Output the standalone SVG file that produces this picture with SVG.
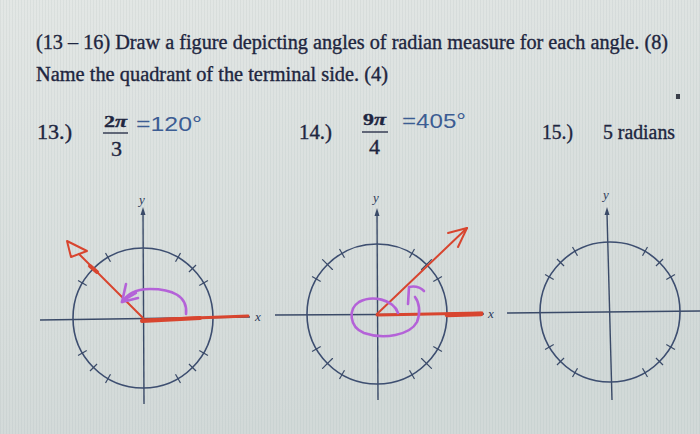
<svg xmlns="http://www.w3.org/2000/svg" xmlns:xlink="http://www.w3.org/1999/xlink" width="700" height="434" viewBox="0 0 700 434">
<defs>
<linearGradient id="bg" x1="0" y1="0" x2="0.3" y2="1">
<stop offset="0" stop-color="#e3e7e5"/>
<stop offset="1" stop-color="#d2d9d8"/>
</linearGradient>
<pattern id="str" width="3" height="10" patternUnits="userSpaceOnUse">
<rect x="0" y="0" width="1" height="10" fill="#9aa6a6" opacity="0.12"/>
</pattern>
<line id="tk" x1="65" y1="0" x2="75" y2="0"/>
<line id="htk" x1="63" y1="0" x2="77" y2="0"/>
<path id="yarr" d="M0,0 L-2.5,8 L2.5,8 Z"/>
</defs>
<style>
.t{font-family:"Liberation Serif","Times New Roman",serif;fill:#1e2640;stroke:#1e2640;stroke-width:0.35}
.b{font-family:"Liberation Sans",Arial,sans-serif;fill:#3c5d93}
.ax{stroke:#3a4a68;stroke-width:1.4;fill:none}
.ci{stroke:#3d4e70;stroke-width:1.6;fill:none}
.tks use{stroke:#3a4a68;stroke-width:1.2}
.lab{font-family:"Liberation Serif",serif;font-style:italic;font-size:13px;fill:#2c3a58}
.red{stroke:#d8452f;fill:none;stroke-linecap:round;stroke-linejoin:round}
.pur{stroke:#b462d8;fill:none;stroke-width:2.6;stroke-linecap:round;stroke-linejoin:round}
</style>
<rect width="700" height="434" fill="url(#bg)"/>
<rect width="700" height="434" fill="url(#str)"/>
<rect x="676" y="94" width="4" height="5" fill="#3a3f4a"/>

<text class="t" x="36" y="49" font-size="20" textLength="632" lengthAdjust="spacingAndGlyphs">(13 – 16) Draw a figure depicting angles of radian measure for each angle. (8)</text>
<text class="t" x="36" y="81" font-size="20" textLength="352" lengthAdjust="spacingAndGlyphs">Name the quadrant of the terminal side. (4)</text>

<text class="t" x="37" y="139" font-size="20" textLength="35" lengthAdjust="spacingAndGlyphs">13.)</text>
<text class="t" x="104" y="127" font-size="17" font-weight="bold" textLength="23" lengthAdjust="spacingAndGlyphs">2<tspan font-style="italic">π</tspan></text>
<line x1="103" y1="133" x2="128" y2="133" stroke="#1e2640" stroke-width="1.3"/>
<text class="t" x="111" y="156" font-size="22" textLength="11" lengthAdjust="spacingAndGlyphs">3</text>
<text class="b" x="136" y="131" font-size="21" textLength="66" lengthAdjust="spacingAndGlyphs">=120°</text>

<text class="t" x="299" y="139" font-size="20" textLength="33" lengthAdjust="spacingAndGlyphs">14.)</text>
<text class="t" x="363" y="125" font-size="17" font-weight="bold" textLength="23" lengthAdjust="spacingAndGlyphs">9<tspan font-style="italic">π</tspan></text>
<line x1="362" y1="132" x2="388" y2="132" stroke="#1e2640" stroke-width="1.3"/>
<text class="t" x="369" y="154" font-size="21" textLength="11" lengthAdjust="spacingAndGlyphs">4</text>
<text class="b" x="402" y="128" font-size="21" textLength="64" lengthAdjust="spacingAndGlyphs">=405°</text>

<text class="t" x="542" y="139" font-size="20" textLength="31" lengthAdjust="spacingAndGlyphs">15.)</text>
<text class="t" x="603" y="139" font-size="20" textLength="72" lengthAdjust="spacingAndGlyphs">5 radians</text>

<!-- Figure 13 -->
<g id="fig13">
<line class="ax" x1="40" y1="320" x2="250" y2="317"/>
<line class="ax" x1="143" y1="212" x2="144" y2="404"/>
<use xlink:href="#yarr" x="143" y="207" fill="#3a4a68"/>
<text class="lab" x="139" y="204">y</text>
<text class="lab" x="255" y="321">x</text>
<circle class="ci" cx="143" cy="318" r="70"/>
<g class="tks" transform="translate(143,318)">
<use xlink:href="#tk" transform="rotate(-30)"/><use xlink:href="#tk" transform="rotate(-45)"/><use xlink:href="#tk" transform="rotate(-60)"/>
<use xlink:href="#tk" transform="rotate(-120)"/><use xlink:href="#tk" transform="rotate(-150)"/>
<use xlink:href="#tk" transform="rotate(-210)"/><use xlink:href="#tk" transform="rotate(-225)"/><use xlink:href="#tk" transform="rotate(-240)"/>
<use xlink:href="#tk" transform="rotate(-300)"/><use xlink:href="#tk" transform="rotate(-315)"/><use xlink:href="#tk" transform="rotate(-330)"/>
</g>
<path class="red" stroke-width="2.8" d="M142,320 L248,316"/>
<path class="red" stroke-width="4" d="M142,321 L200,318"/>
<path class="red" stroke-width="2" d="M143,318 L79,254"/>
<path class="red" stroke-width="2" d="M67,241 L71,257 L87,251 Z"/>
<path class="red" stroke-width="4" d="M90,266 L97,272"/>
<path class="pur" d="M186,314 C188,296 172,289 150,289 C134,289 127,295 122,302"/>
<path class="pur" d="M122,302 L126,284 M122,302 L138,298 M124,300 L136,293"/>
</g>

<!-- Figure 14 -->
<g id="fig14">
<line class="ax" x1="275" y1="315" x2="484" y2="314"/>
<line class="ax" x1="377" y1="213" x2="378" y2="400"/>
<use xlink:href="#yarr" x="377" y="208" fill="#3a4a68"/>
<text class="lab" x="373" y="202">y</text>
<text class="lab" x="488" y="318">x</text>
<circle class="ci" cx="377" cy="314" r="70"/>
<g class="tks" transform="translate(377,314)">
<use xlink:href="#tk" transform="rotate(-30)"/><use xlink:href="#tk" transform="rotate(-60)"/>
<use xlink:href="#tk" transform="rotate(-120)"/><use xlink:href="#tk" transform="rotate(-150)"/>
<use xlink:href="#tk" transform="rotate(-210)"/><use xlink:href="#tk" transform="rotate(-240)"/>
<use xlink:href="#tk" transform="rotate(-300)"/><use xlink:href="#tk" transform="rotate(-330)"/>
<g stroke="#23262e" stroke-width="4" stroke-linecap="round">
<use xlink:href="#htk" transform="rotate(-45)"/><use xlink:href="#htk" transform="rotate(-135)"/>
<use xlink:href="#htk" transform="rotate(-225)"/><use xlink:href="#htk" transform="rotate(-315)"/>
</g>
</g>
<path class="red" stroke-width="2.8" d="M377,315 L482,313"/>
<path class="red" stroke-width="4.5" d="M447,315 L481,314"/>
<path class="red" stroke-width="2" d="M377,314 L467,228"/>
<path class="red" stroke-width="2" d="M448,233 L467,228 L458,247"/>
<path class="pur" d="M398,313 C393,299 372,295 359,302 C348,309 349,327 364,333 C384,340 410,335 417,322 C421,312 419,302 415,297"/>
<path class="pur" d="M408,304 L409,287 C414,286 420,287 424,291"/>
</g>

<!-- Figure 15 -->
<g id="fig15">
<line class="ax" x1="507" y1="313" x2="700" y2="311"/>
<line class="ax" x1="607" y1="213" x2="612" y2="400"/>
<use xlink:href="#yarr" x="607" y="207" fill="#3a4a68"/>
<text class="lab" x="603" y="199">y</text>
<circle class="ci" cx="610" cy="312" r="70"/>
<g class="tks" transform="translate(610,312)">
<use xlink:href="#tk" transform="rotate(-30)"/><use xlink:href="#tk" transform="rotate(-45)"/><use xlink:href="#tk" transform="rotate(-60)"/>
<use xlink:href="#tk" transform="rotate(-120)"/><use xlink:href="#tk" transform="rotate(-135)"/><use xlink:href="#tk" transform="rotate(-150)"/>
<use xlink:href="#tk" transform="rotate(-210)"/><use xlink:href="#tk" transform="rotate(-225)"/><use xlink:href="#tk" transform="rotate(-240)"/>
<use xlink:href="#tk" transform="rotate(-300)"/><use xlink:href="#tk" transform="rotate(-315)"/><use xlink:href="#tk" transform="rotate(-330)"/>
</g>
</g>
</svg>
